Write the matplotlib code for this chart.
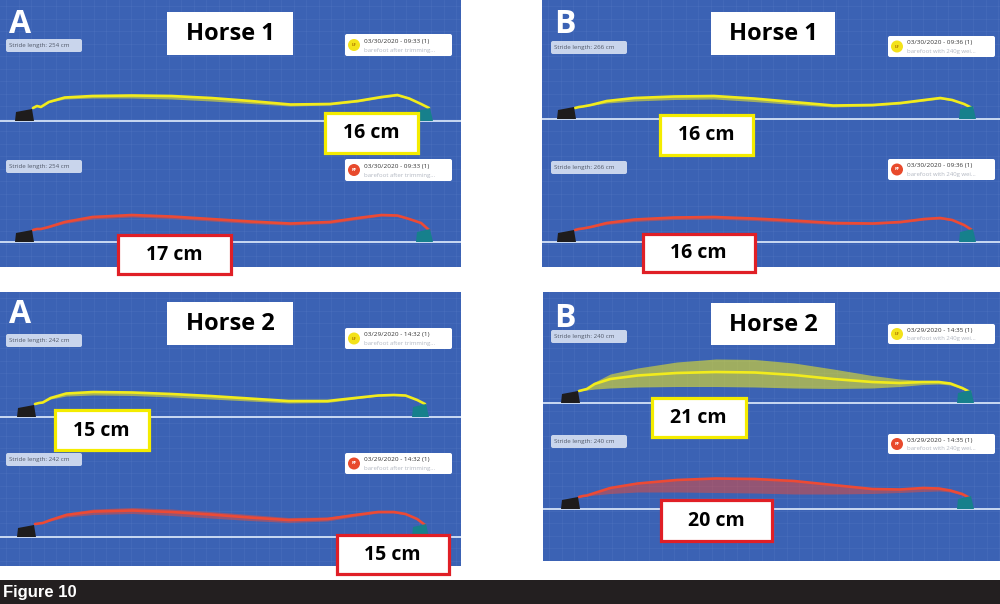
import numpy as np
import matplotlib
matplotlib.use("Agg")
import matplotlib.pyplot as plt
from matplotlib.patches import Rectangle, FancyBboxPatch, Polygon, Circle

plt.rcParams["font.family"] = ["Open Sans", "DejaVu Sans"]

# swing phase position, % from toe-off to landing
stride_pct = [0, 1, 2, 4, 8, 15, 25, 35, 45, 55, 65, 75, 82, 88, 92, 95, 98, 100]

# hoof height above the ground line (screen units)
# A / Horse 1
a1_lf_mean = [13, 15, 14, 19, 23.5, 25, 25.5, 25, 23, 20, 16.5, 17, 20, 24, 26, 22.5, 17, 13]
a1_lf_upper = [13, 15, 14, 19.5, 24, 25.5, 26, 25.5, 23.5, 20.5, 17, 17.5, 20.5, 24.5, 26.5, 23, 17, 13]
a1_lf_lower = [13, 15, 14, 18.5, 22, 23, 23, 22, 20, 17.5, 15, 16, 19, 23, 25, 22, 17, 13]
a1_rf_mean = [12, 13, 13, 15, 20, 25, 27, 25.5, 23, 20.5, 18.5, 20, 24, 27, 26.5, 23, 19, 12]
a1_rf_upper = [12, 13, 13, 15.5, 20.5, 25.5, 27.5, 26, 23.5, 21, 19, 20.5, 24.5, 27.5, 27, 23.5, 19, 12]
a1_rf_lower = [12, 13, 13, 14.5, 18.5, 23, 25, 23.5, 21, 18.5, 17, 18.5, 22.5, 26, 25.5, 22.5, 19, 12]
# B / Horse 1
b1_lf_mean = [11, 12, 12.5, 14, 18, 21, 22.5, 23, 20.5, 17, 13.5, 14, 16, 19, 21, 19, 15, 11]
b1_lf_upper = [11, 12, 12.5, 14.5, 18.5, 21.5, 23, 23.5, 21, 17.5, 14, 14.5, 16.5, 19.5, 21.5, 19.5, 15, 11]
b1_lf_lower = [11, 12, 12.5, 13.5, 16, 18, 19.5, 20, 17.5, 14.5, 12, 13, 15, 18, 20, 18.5, 15, 11]
b1_rf_mean = [12, 13, 13.5, 15, 19, 22.5, 24.5, 25, 23.5, 21.5, 19, 18.5, 20, 23, 24, 22, 17, 12]
b1_rf_upper = [12, 13, 13.5, 15.5, 19.5, 23, 25, 25.5, 24, 22, 19.5, 19, 20.5, 23.5, 24.5, 22.5, 17, 12]
b1_rf_lower = [12, 13, 13.5, 14.5, 17.5, 20.5, 22.5, 23, 21.5, 19.5, 17.5, 17.5, 19, 22, 23, 21.5, 17, 12]
# A / Horse 2
a2_lf_mean = [13, 14, 14.5, 19, 23.5, 25, 24.5, 23, 21, 18.5, 16, 16, 19, 21.5, 22, 21.5, 17, 13]
a2_lf_upper = [13, 14, 14.5, 19.5, 24, 25.5, 25, 23.5, 21.5, 19, 16.5, 16.5, 19.5, 22, 22.5, 22, 17, 13]
a2_lf_lower = [13, 14, 14.5, 18, 21, 22, 21.5, 20, 18, 16, 14, 14.5, 18, 21, 21.5, 21, 17, 13]
a2_rf_mean = [13, 13.5, 14, 17, 22, 25.5, 26.5, 25, 22.5, 19.5, 17, 18, 22, 25, 25, 23, 18, 12]
a2_rf_upper = [13, 13.5, 14, 18, 24, 28, 29.5, 28, 25.5, 22.5, 19.5, 20, 23.5, 26, 26, 23.5, 18, 12]
a2_rf_lower = [13, 13.5, 14, 16, 20, 22.5, 23.5, 21.5, 19, 16.5, 14.5, 16, 20.5, 24, 24, 22.5, 18, 12]
# B / Horse 2
b2_lf_mean = [12, 13, 14, 19, 24, 27.5, 30, 31, 30.5, 28, 24, 21, 20, 21, 21, 19.5, 15, 11]
b2_lf_upper = [12, 13, 15, 21, 29, 35, 41, 44, 43.5, 40, 34, 27.5, 24, 22.5, 22, 20, 15.5, 11]
b2_lf_lower = [12, 12.5, 13, 14, 15, 16, 16.5, 16.5, 16, 15, 14.5, 15, 16.5, 18.5, 19, 18, 14, 11]
b2_rf_mean = [12, 13, 13.5, 16, 21, 25.5, 29, 30.5, 30, 28, 24, 20, 19.5, 21, 20.5, 18.5, 15, 11]
b2_rf_upper = [12, 13, 13.5, 16.5, 21.5, 26, 29.5, 31, 30.5, 28.5, 24.5, 20.5, 20, 21.5, 21, 19, 15, 11]
b2_rf_lower = [12, 12.5, 13, 14, 15.5, 17, 17, 16.5, 16, 15, 15, 15.5, 16.5, 17.5, 18, 17, 14, 11]

panel_letters = ["A", "B", "A", "B"]
horse_names = ["Horse 1", "Horse 1", "Horse 2", "Horse 2"]
stride_lengths = [254, 266, 242, 240]
record_times = ["03/30/2020 - 09:33 (1)", "03/30/2020 - 09:36 (1)",
                "03/29/2020 - 14:32 (1)", "03/29/2020 - 14:35 (1)"]
record_notes = ["barefoot after trimming...", "barefoot with 240g wei...",
                "barefoot after trimming...", "barefoot with 240g wei..."]
lf_max_height = [16, 16, 15, 21]
rf_max_height = [17, 16, 15, 20]

lf_data = [(a1_lf_mean, a1_lf_upper, a1_lf_lower), (b1_lf_mean, b1_lf_upper, b1_lf_lower),
           (a2_lf_mean, a2_lf_upper, a2_lf_lower), (b2_lf_mean, b2_lf_upper, b2_lf_lower)]
rf_data = [(a1_rf_mean, a1_rf_upper, a1_rf_lower), (b1_rf_mean, b1_rf_upper, b1_rf_lower),
           (a2_rf_mean, a2_rf_upper, a2_rf_lower), (b2_rf_mean, b2_rf_upper, b2_rf_lower)]

# layout of each screenshot panel, in pixels of a 1000x604 figure
# letter = (left, baseline)
layout = [
    dict(x0=0, y0=0, w=461, h=267, xs=33, xe=429, base=(121, 242), letter=(9, 33),
         horse=(167, 12, 126, 43), pill=(6, (39, 160)), card=(345, (34, 159), 22),
         lf_box=(323, 111, 96, 43), rf_box=(116, 233, 116, 42)),
    dict(x0=542, y0=0, w=458, h=267, xs=33, xe=430, base=(119, 242), letter=(12, 33),
         horse=(169, 12, 124, 43), pill=(9, (41, 161)), card=(346, (36, 159), 21),
         lf_box=(116, 113, 96, 43), rf_box=(99, 232, 115, 41)),
    dict(x0=0, y0=292, w=461, h=274, xs=35, xe=425, base=(125, 245), letter=(9, 31),
         horse=(167, 10, 126, 43), pill=(6, (42, 161)), card=(345, (36, 161), 21),
         lf_box=(53, 116, 97, 43), rf_box=(335, 241, 115, 42)),
    dict(x0=543, y0=292, w=457, h=269, xs=36, xe=427, base=(111, 217), letter=(11, 35),
         horse=(168, 11, 124, 42), pill=(8, (38, 143)), card=(345, (32, 142), 20),
         lf_box=(107, 104, 97, 42), rf_box=(116, 206, 114, 44)),
]

BG = "#3b62b4"
GRID = "#7496d6"
YELLOW = "#f2ec1c"
RED = "#ec4a35"

fig = plt.figure(figsize=(10, 6.04), dpi=100)
fig.patch.set_facecolor("white")


def draw_track(ax, lay, base, curves, color, fill_alpha):
    mean, upper, lower = (np.array(c) for c in curves)
    x = lay["xs"] + np.array(stride_pct) / 100 * (lay["xe"] - lay["xs"])
    ax.plot([0, lay["w"]], [base, base], color="#d5e3f7", lw=1.3, zorder=2)
    ax.fill_between(x, base - lower, base - upper, color=color, alpha=fill_alpha, lw=0, zorder=3)
    ax.plot(x, base - mean, color=color, lw=1.9, zorder=4, solid_capstyle="round")
    xs, xe = lay["xs"], lay["xe"]
    ax.add_patch(Polygon([(xs - 18, base), (xs - 17, base - 9), (xs - 1, base - 12), (xs + 1, base)],
                         closed=True, fc="#1e1c1c", ec="none", zorder=5))
    ax.add_patch(Polygon([(xe - 13, base), (xe - 12, base - 10), (xe + 1, base - 13), (xe + 4, base)],
                         closed=True, fc="#16808c", ec="none", zorder=5))


def draw_card(ax, x, y, hgt, icon_color, icon_text, icon_text_color, when, note):
    ax.add_patch(FancyBboxPatch((x, y), 107, hgt, boxstyle="round,pad=0,rounding_size=2",
                                fc="white", ec="none", zorder=6))
    ax.add_patch(Circle((x + 9, y + hgt / 2), 6, fc=icon_color, ec="none", zorder=7))
    ax.text(x + 9, y + hgt / 2, icon_text, fontsize=3.2, color=icon_text_color,
            ha="center", va="center", fontweight="bold", zorder=8)
    ax.text(x + 19, y + hgt * 0.33, when, fontsize=4.6, color="#333333", va="center", zorder=8)
    ax.text(x + 19, y + hgt * 0.73, note, fontsize=4.3, color="#b3b8c2", va="center", zorder=8)


def draw_value_box(ax, box, text, edge):
    bx, by, bw, bh = box
    ax.add_patch(Rectangle((bx + 1.5, by + 1.5), bw - 3, bh - 3, fc="white", ec=edge, lw=2.3,
                           zorder=9, clip_on=False))
    ax.text(bx + bw / 2, by + bh / 2 + 1, text, fontsize=14, fontweight="bold", color="black",
            ha="center", va="center", zorder=10, clip_on=False)


for i, lay in enumerate(layout):
    w, h = lay["w"], lay["h"]
    ax = fig.add_axes([lay["x0"] / 1000, 1 - (lay["y0"] + h) / 604, w / 1000, h / 604])
    ax.set_xlim(0, w)
    ax.set_ylim(h, 0)
    ax.set_facecolor(BG)
    ax.set_xticks([])
    ax.set_yticks([])
    for s in ax.spines.values():
        s.set_visible(False)

    # faint screen grid
    for gx in np.arange(6, w, 12.5):
        ax.axvline(gx, color=GRID, lw=0.5, alpha=0.18, zorder=1)
    for gy in np.arange(6, h, 12.5):
        ax.axhline(gy, color=GRID, lw=0.5, alpha=0.18, zorder=1)

    lx, ly = lay["letter"]
    ax.text(lx, ly, panel_letters[i], fontsize=23, fontweight="bold", color="white",
            ha="left", va="baseline", zorder=6)

    hx, hy, hw, hh = lay["horse"]
    ax.add_patch(Rectangle((hx, hy), hw, hh, fc="white", ec="none", zorder=6))
    ax.text(hx + hw / 2, hy + hh / 2 + 1, horse_names[i], fontsize=17, fontweight="bold",
            color="black", ha="center", va="center", zorder=7)

    px, pys = lay["pill"]
    for py in pys:
        ax.add_patch(FancyBboxPatch((px, py), 76, 13, boxstyle="round,pad=0,rounding_size=2",
                                    fc="#c9d5ec", ec="none", zorder=6))
        ax.text(px + 3, py + 6.5, f"Stride length: {stride_lengths[i]} cm", fontsize=4.4,
                color="#505868", va="center", zorder=7)

    cx, cys, ch = lay["card"]
    draw_card(ax, cx, cys[0], ch, "#f3e21a", "LF", "#b07a00", record_times[i], record_notes[i])
    draw_card(ax, cx, cys[1], ch, "#e84a2c", "RF", "white", record_times[i], record_notes[i])

    draw_track(ax, lay, lay["base"][0], lf_data[i], YELLOW, 0.55)
    draw_track(ax, lay, lay["base"][1], rf_data[i], RED, 0.5)

    draw_value_box(ax, lay["lf_box"], f"{lf_max_height[i]} cm", "#f4ec00")
    draw_value_box(ax, lay["rf_box"], f"{rf_max_height[i]} cm", "#e01f26")

# caption bar
fig.add_artist(Rectangle((0, 0), 1, 24 / 604, transform=fig.transFigure,
                         fc="#231f20", ec="none"))
fig.text(0.003, 11.5 / 604, "Figure 10", color="white", fontsize=12, fontweight="bold",
         family=["Liberation Sans", "DejaVu Sans"], va="center", ha="left")

fig.savefig("out.png", dpi=100, facecolor="white")
